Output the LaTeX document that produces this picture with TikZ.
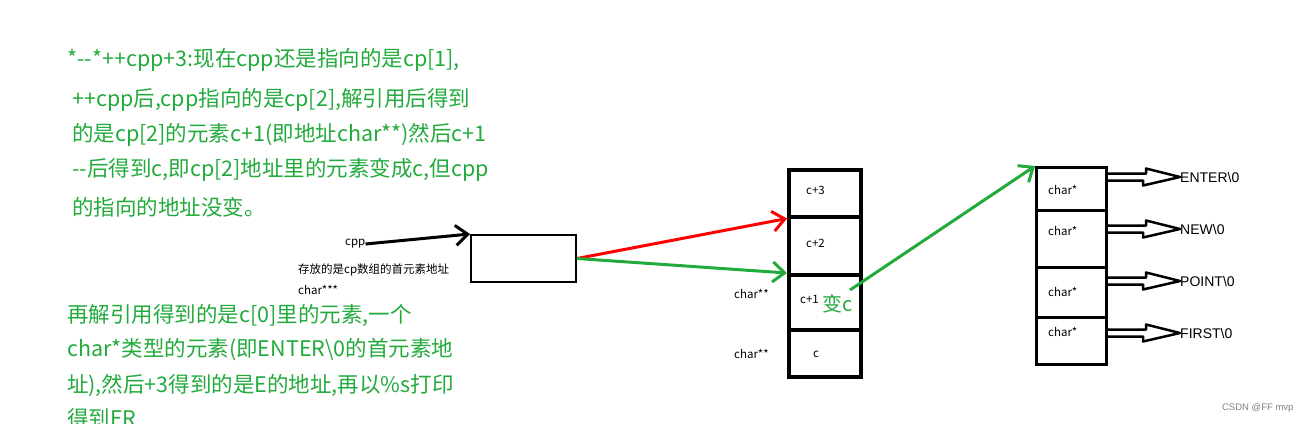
\documentclass[tikz,border=0pt]{standalone}
\usepackage{fontspec}
\setmainfont{Liberation Sans}
\newfontfamily\cjk{Noto Sans CJK SC}
\usetikzlibrary{arrows.meta}
\definecolor{tg}{RGB}{34,170,60}
\begin{document}
\begin{tikzpicture}[x=1pt,y=-1pt,
  gtxt/.style={anchor=west,text=tg,font=\cjk\fontsize{21.5}{24}\selectfont,inner sep=0},
  small/.style={anchor=west,font=\cjk\fontsize{11.5}{13}\selectfont,inner sep=0},
  cell/.style={draw,line width=3.5pt,minimum width=72pt,anchor=north west,inner sep=0},
  harrow/.style={line width=3pt,-{Straight Barb[length=12pt,width=20pt]}},
  doub/.style={line width=2.5pt,line join=round}]
\useasboundingbox (0,0) rectangle (1311,423);
\node[gtxt] (t1) at (67,60) {*-{}-*++cpp+3:现在cpp还是指向的是cp[1],};
\node[gtxt] (t2) at (72,100) {++cpp后,cpp指向的是cp[2],解引用后得到};
\node[gtxt] (t3) at (72,135) {的是cp[2]的元素c+1(即地址char**)然后c+1};
\node[gtxt] (t4) at (72,170) {-{}-后得到c,即cp[2]地址里的元素变成c,但cpp};
\node[gtxt] (t5) at (72,207) {的指向的地址没变。};
\node[gtxt] (b1) at (67,315) {再解引用得到的是c[0]里的元素,一个};
\node[gtxt] (b2) at (67,350) {char*类型的元素(即ENTER\textbackslash 0的首元素地};
\node[gtxt] (b3) at (67,385) {址),然后+3得到的是E的地址,再以\%s打印};
\node[gtxt] (b4) at (67,418) {得到ER};

\node[small] (cpp) at (345,244) {cpp};
\node[small] (d1) at (298,270) {存放的是cp数组的首元素地址};
\node[small] (d2) at (298,290) {char***};
\node[draw,line width=2pt,minimum width=105pt,minimum height=47pt,anchor=north west,inner sep=0] (box) at (470,234) {};

\node[cell,minimum height=47pt] (m1) at (787,168) {};
\node[cell,minimum height=58pt] (m2) at (787,215) {};
\node[cell,minimum height=55pt] (m3) at (787,273) {};
\node[cell,minimum height=47pt] (m4) at (787,328) {};
\node[small] at (806,190) {c+3};
\node[small] at (806,243) {c+2};
\node[small] at (800,299) {c+1};
\node[small] at (813,354) {c};
\node[small] at (734,294) {char**};
\node[small] at (734,354) {char**};
\node[anchor=west,text=tg,font=\cjk\fontsize{20}{22}\selectfont,inner sep=0] (bian) at (822,304) {变c};

\node[cell,minimum width=70pt,minimum height=43pt,line width=3pt] (r1) at (1035,166) {};
\node[cell,minimum width=70pt,minimum height=57pt,line width=3pt] (r2) at (1035,209) {};
\node[cell,minimum width=70pt,minimum height=50pt,line width=3pt] (r3) at (1035,266) {};
\node[cell,minimum width=70pt,minimum height=47pt,line width=3pt] (r4) at (1035,316) {};
\node[small] at (1048,190) {char*};
\node[small] at (1048,231) {char*};
\node[small] at (1048,292) {char*};
\node[small] at (1048,332) {char*};
\node[small,font=\fontsize{14}{16}\selectfont] (l1) at (1180,177) {ENTER\textbackslash 0};
\node[small,font=\fontsize{14}{16}\selectfont] (l2) at (1180,229) {NEW\textbackslash 0};
\node[small,font=\fontsize{14}{16}\selectfont] (l3) at (1180,281) {POINT\textbackslash 0};
\node[small,font=\fontsize{14}{16}\selectfont] (l4) at (1180,333) {FIRST\textbackslash 0};
\foreach \r/\l in {r1/l1,r2/l2,r3/l3,r4/l4}{
  \draw[doub] ([yshift=3.5pt]\r.east |- \l.west) -- ++(38,0) -- ++(0,-5) -- (\l.west)
     -- ([xshift=-37pt,yshift=-8.5pt]\l.west) -- ++(0,-5) -- ([yshift=-3.5pt]\r.east |- \l.west);
}
\node[anchor=east,text=gray,font=\fontsize{9.5}{10}\selectfont] (csdn) at (1297,408) {CSDN @FF mvp};

\draw[harrow] (cpp.east) -- (box.north west);
\draw[harrow,draw=red] (box.east) -- (m1.south west);
\draw[harrow,draw=tg] (box.east) -- (m3.north west);
\draw[harrow,draw=tg] (850,290) -- (r1.north west);
\end{tikzpicture}
\end{document}
